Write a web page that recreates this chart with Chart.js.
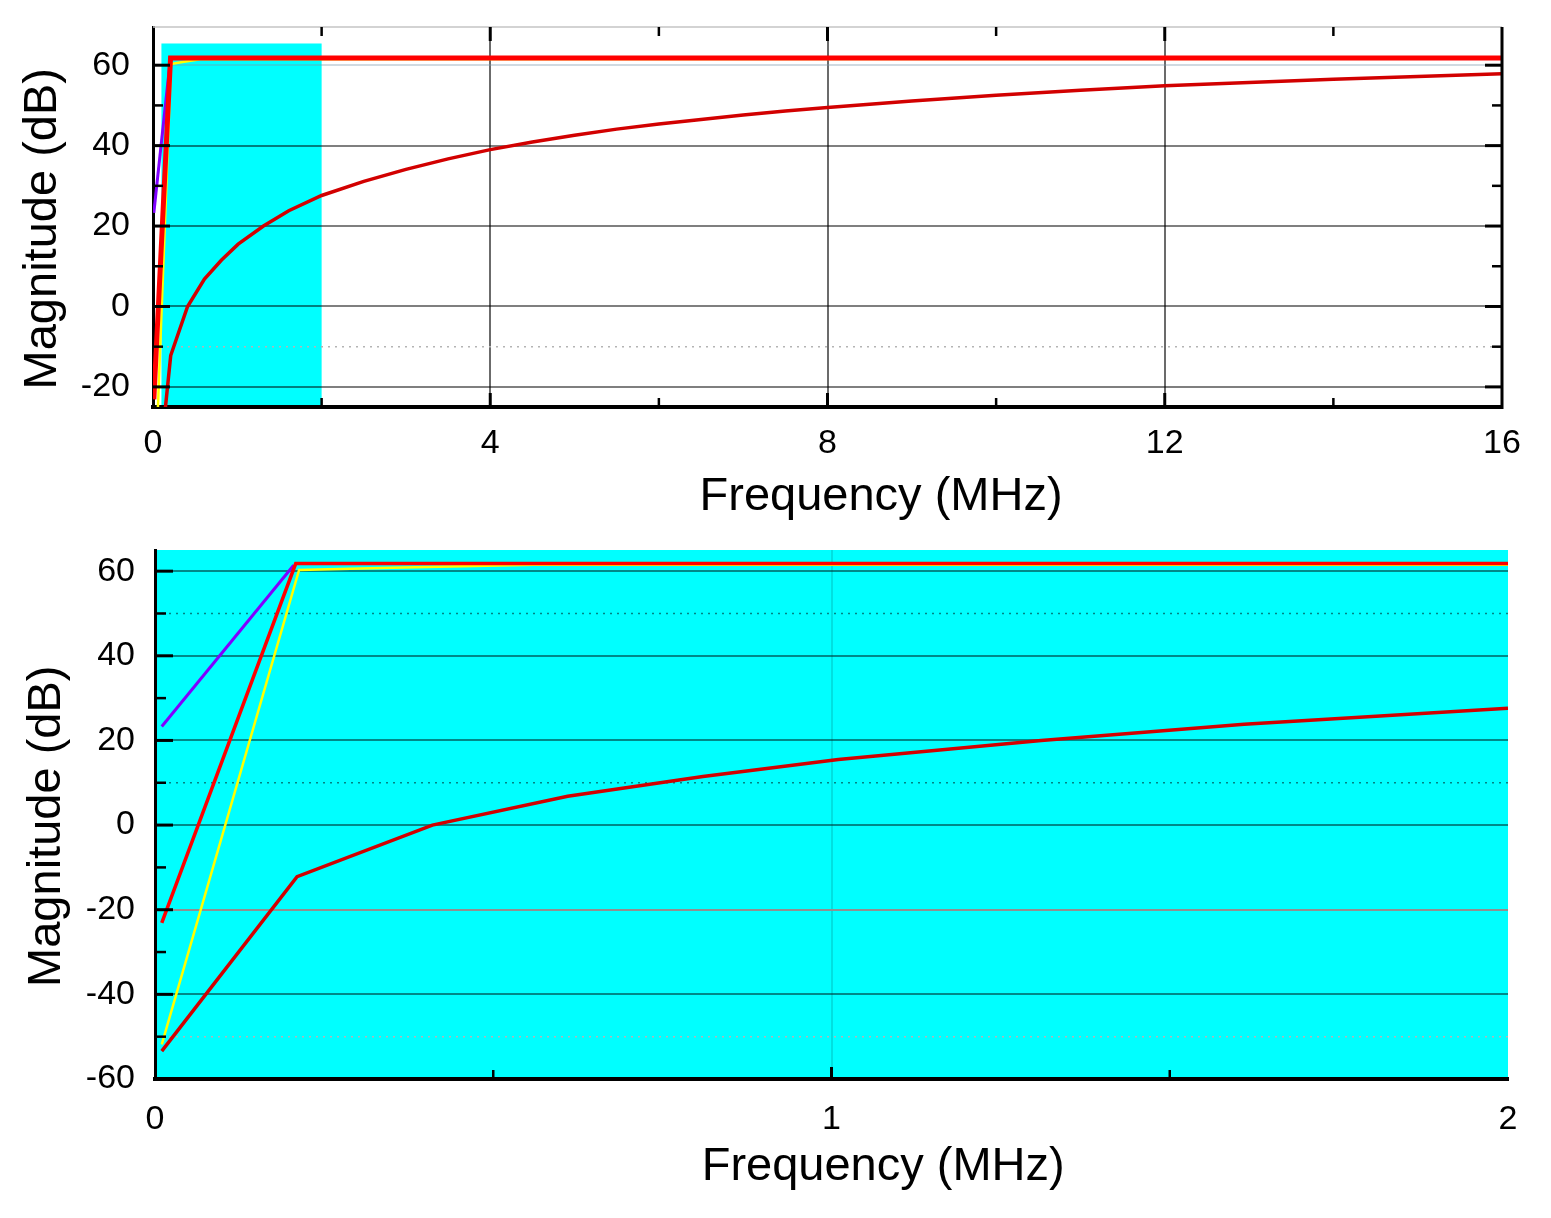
<!DOCTYPE html>
<html>
<head>
<meta charset="utf-8">
<script src="https://cdn.jsdelivr.net/npm/chart.js@4.4.1/dist/chart.umd.min.js"></script>
<style>
  html, body { margin: 0; padding: 0; background: #fff; }
  .panel { position: absolute; left: 0; width: 1551px; }
  #wrapTop { top: 0; height: 528px; }
  #wrapBottom { top: 528px; height: 690px; }
</style>
</head>
<body>
<div class="panel" id="wrapTop"><canvas id="chartTop"></canvas></div>
<div class="panel" id="wrapBottom"><canvas id="chartBottom"></canvas></div>
<script>
// curves (frequency in MHz, magnitude in dB)
const redFreq = [0.01, 0.208, 16];
const redMag = [-23.1, 61.8, 61.8];
const purpleFreq = [0.01, 0.205];
const purpleMag = [23.3, 61.4];
const yellowFreq = [0.01, 0.213, 0.35, 0.56, 16];
const yellowMag = [-51.8, 60.3, 60.8, 61.5, 61.6];
const curveFreq = [0.01, 0.21, 0.41, 0.61, 0.81, 1.01, 1.31, 1.61, 2.0, 2.5, 3.0, 3.5, 4.0, 4.5, 5.0, 5.5, 6.0, 6.5, 7.0, 7.5, 8.0, 9, 10, 11, 12, 13, 14, 15, 16];
const curveMag = [-53.4, -12.2, 0, 6.8, 11.5, 15.5, 20, 23.8, 27.6, 31.1, 34.1, 36.7, 39.0, 40.9, 42.6, 44.1, 45.4, 46.5, 47.6, 48.6, 49.5, 51.1, 52.5, 53.8, 54.9, 55.7, 56.5, 57.2, 57.9];

// top panel: 0..16 MHz
const topXTicks = [0, 4, 8, 12, 16];
const topXMinor = [2, 6, 10, 14];
const topYTicks = [-20, 0, 20, 40, 60];
const topYMinor = [-10, 10, 30, 50];
const topDotted = [-10];
const topBand = [0.1, 2.0, 65.4]; // freq from, freq to, upper dB

// bottom panel: 0..2 MHz
const botXTicks = [0, 1, 2];
const botXMinor = [0.5, 1.5];
const botYTicks = [-60, -40, -20, 0, 20, 40, 60];
const botYMinor = [-50, -30, -10, 10, 30, 50];
const botDotted = [50, 10, -50];
const botBand = [0, 2, 65];

Chart.defaults.font.family = '"Liberation Sans", Arial, sans-serif';
Chart.defaults.color = '#000';

const toPoints = (xs, ys) => xs.map((x, i) => ({x: x, y: ys[i]}));

// shaded band, dotted helper lines and inward tick marks
const decor = {
  id: 'decor',
  beforeDraw(chart, args, o) {
    const {ctx, scales: {x, y}} = chart;
    const l = x.getPixelForValue(o.band[0]);
    const r = x.getPixelForValue(o.band[1]);
    const t = y.getPixelForValue(o.band[2]);
    const b = y.getPixelForValue(y.min);
    ctx.save();
    ctx.fillStyle = '#00ffff';
    ctx.fillRect(l, t, r - l, b - t);
    ctx.restore();
  },
  beforeDatasetsDraw(chart, args, o) {
    const {ctx, chartArea: a, scales: {y}} = chart;
    ctx.save();
    ctx.setLineDash([2, 5]);
    ctx.lineWidth = 1.5;
    o.dotted.forEach((v, i) => {
      const py = y.getPixelForValue(v);
      ctx.strokeStyle = o.dottedColors[i];
      ctx.beginPath();
      ctx.moveTo(a.left, py);
      ctx.lineTo(a.right, py);
      ctx.stroke();
    });
    ctx.restore();
  },
  afterDatasetsDraw(chart, args, o) {
    const {ctx, chartArea: a, scales: {x, y}} = chart;
    ctx.save();
    if (o.frame) {
      ctx.strokeStyle = '#c4c4c4';
      ctx.lineWidth = 1.5;
      ctx.beginPath(); ctx.moveTo(a.left, a.top); ctx.lineTo(a.right, a.top); ctx.stroke();
      ctx.strokeStyle = '#000';
      ctx.lineWidth = 3;
      ctx.beginPath(); ctx.moveTo(a.right, a.top); ctx.lineTo(a.right, a.bottom + 2); ctx.stroke();
    }
    ctx.strokeStyle = '#000';
    const line = (x1, y1, x2, y2, w) => {
      ctx.lineWidth = w;
      ctx.beginPath(); ctx.moveTo(x1, y1); ctx.lineTo(x2, y2); ctx.stroke();
    };
    [[o.yMajor, o.yMajorLen, 3], [o.yMinor, o.yMinorLen, 2.5]].forEach(([vals, len, w]) => {
      vals.forEach(v => {
        const py = y.getPixelForValue(v);
        line(a.left, py, a.left + len, py, w);
        if (o.frame) line(a.right, py, a.right - len, py, w);
      });
    });
    [[o.xMajor, o.xMajorLen, 3], [o.xMinor, o.xMinorLen, 2.5]].forEach(([vals, len, w]) => {
      vals.forEach(v => {
        const px = x.getPixelForValue(v);
        line(px, a.bottom, px, a.bottom - len, w);
        if (o.frame) line(px, a.top, px, a.top + len, w);
      });
    });
    ctx.restore();
  }
};

function makeDatasets(w) {
  return [
    {data: toPoints(redFreq, redMag), borderColor: '#ff0000', borderWidth: w.red},
    {data: toPoints(curveFreq, curveMag), borderColor: '#d20000', borderWidth: w.curve},
    {data: toPoints(purpleFreq, purpleMag), borderColor: '#8000ff', borderWidth: 3},
    {data: toPoints(yellowFreq, yellowMag), borderColor: '#ffff00', borderWidth: 2.5}
  ];
}

function createPanel(canvasId, p) {
  const ctx = document.getElementById(canvasId).getContext('2d');
  new Chart(ctx, {
    type: 'line',
    data: {datasets: makeDatasets(p.widths)},
    options: {
      responsive: true,
      maintainAspectRatio: false,
      animation: false,
      elements: {point: {radius: 0}, line: {tension: 0}},
      layout: {padding: {top: p.padTop, right: p.padRight, left: 0, bottom: 0}},
      plugins: {
        legend: {display: false},
        tooltip: {enabled: false},
        decor: p.decor
      },
      scales: {
        x: {
          type: 'linear',
          min: p.xMin, max: p.xMax,
          afterBuildTicks: axis => { axis.ticks = p.xTicks.map(v => ({value: v})); },
          afterFit: axis => { axis.height = p.xHeight; },
          ticks: {font: {size: 34}, padding: p.xTickPad, maxRotation: 0, autoSkip: false},
          grid: {drawTicks: false, lineWidth: 2, color: p.xGridColor},
          border: {color: '#000', width: 4},
          title: {display: true, text: p.xTitle, font: {size: 47}, padding: {top: 0, bottom: p.xTitlePad}}
        },
        y: {
          min: p.yMin, max: p.yMax,
          afterBuildTicks: axis => { axis.ticks = p.yTicks.map(v => ({value: v})); },
          afterFit: axis => { axis.width = p.yWidth; },
          ticks: {font: {size: 34}, padding: 0, autoSkip: false},
          grid: {drawTicks: true, tickLength: p.yTickGap, tickColor: 'rgba(0,0,0,0)', lineWidth: 2, color: p.yGridColor},
          border: {color: '#000', width: 3},
          title: {display: true, text: 'Magnitude (dB)\u2002', font: {size: 47}, padding: {top: p.yTitlePad, bottom: 0}}
        }
      }
    },
    plugins: [decor]
  });
}

createPanel('chartTop', {
  widths: {red: 5, curve: 3.5},
  xMin: 0, xMax: 16, yMin: -25, yMax: 69.5,
  xTicks: topXTicks, yTicks: topYTicks,
  padTop: 27, padRight: 49,
  xHeight: 121, yWidth: 153,
  xTickPad: 16, yTickGap: 23, xTitlePad: 3, yTitlePad: 15,
  xTitle: '\u2002\u2002\u2002\u2002 Frequency (MHz)',
  xGridColor: c => (c.tick.value === 0 || c.tick.value === 16) ? 'rgba(0,0,0,0)' : 'rgba(0,0,0,0.58)',
  yGridColor: c => c.tick.value === 60 ? 'rgba(120,150,170,0.35)' : 'rgba(0,0,0,0.5)',
  decor: {
    band: topBand, frame: true,
    dotted: topDotted, dottedColors: ['#b4b4b4'],
    xMajor: topXTicks.slice(1, -1), xMinor: topXMinor, xMajorLen: 14, xMinorLen: 9,
    yMajor: topYTicks, yMinor: topYMinor, yMajorLen: 17, yMinorLen: 10
  }
});

createPanel('chartBottom', {
  widths: {red: 3.5, curve: 3.5},
  xMin: 0, xMax: 2, yMin: -60, yMax: 65,
  xTicks: botXTicks, yTicks: botYTicks,
  padTop: 22, padRight: 43,
  xHeight: 139, yWidth: 155,
  xTickPad: 20, yTickGap: 20, xTitlePad: 23, yTitlePad: 19,
  xTitle: '\u2002\u2002\u2002\u2002\u2009Frequency (MHz)',
  xGridColor: c => c.tick.value === 1 ? 'rgba(0,0,0,0.12)' : 'rgba(0,0,0,0)',
  yGridColor: c => c.tick.value === -20 ? '#909090' : 'rgba(0,40,40,0.55)',
  decor: {
    band: botBand, frame: false,
    dotted: botDotted, dottedColors: ['rgba(0,80,80,0.7)', 'rgba(0,80,80,0.7)', '#b4b4b4'],
    xMajor: [1], xMinor: botXMinor, xMajorLen: 12, xMinorLen: 9,
    yMajor: botYTicks, yMinor: botYMinor, yMajorLen: 18, yMinorLen: 11
  }
});
</script>
</body>
</html>
